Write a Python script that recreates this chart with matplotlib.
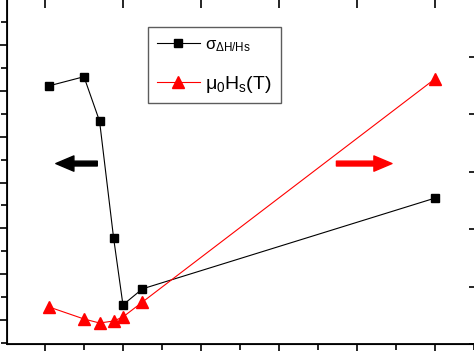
import matplotlib.pyplot as plt
from matplotlib.ticker import MultipleLocator

plt.rcParams['font.family'] = ['Liberation Sans', 'DejaVu Sans']
plt.rcParams['mathtext.fontset'] = 'custom'
plt.rcParams['mathtext.rm'] = 'Liberation Sans'
plt.rcParams['mathtext.it'] = 'Liberation Sans'

# data (arbitrary units since the tick labels are cropped)
x = [0.5, 5.0, 7.0, 8.8, 10.0, 12.5, 50.0]
sigma = [6.11, 6.31, 5.34, 2.79, 1.33, 1.68, 3.66]
mu0Hs = [0.129, 0.087, 0.073, 0.080, 0.094, 0.146, 0.922]

fig = plt.figure(figsize=(4.74, 3.51), dpi=100)
ax1 = fig.add_axes([7/474, 7/351, 470/474, 347/351])
ax1.set_xlim(-4.87, 55.4)
ax1.set_ylim(0.476, 8.05)

l1, = ax1.plot(x, sigma, color='black', linewidth=0.8, marker='s', markersize=6,
               label=r'$\sigma_{\Delta H/Hs}$')

ax2 = ax1.twinx()
ax2.set_ylim(0, 1.207)
l2, = ax2.plot(x, mu0Hs, color='red', linewidth=0.8, marker='^', markersize=8,
               label=r'$\mu_0H_s$(T)')

for s in ax1.spines.values():
    s.set_linewidth(1.3)

ax1.xaxis.set_major_locator(MultipleLocator(10))
ax1.xaxis.set_minor_locator(MultipleLocator(5))
ax1.yaxis.set_major_locator(MultipleLocator(1))
ax1.yaxis.set_minor_locator(MultipleLocator(0.5))
ax1.tick_params(which='both', direction='out', top=False, right=False,
                labelbottom=False, labelleft=False, width=1.2)
ax1.tick_params(which='major', length=7)
ax1.tick_params(which='minor', length=4)

ax2.yaxis.set_major_locator(MultipleLocator(0.2))
ax2.tick_params(which='major', direction='in', labelright=False, width=1.2, length=6)
ax2.tick_params(which='minor', right=False)

top = ax1.secondary_xaxis('top')
top.xaxis.set_major_locator(MultipleLocator(10))
top.tick_params(which='major', direction='in', labeltop=False, width=1.2, length=8)
top.tick_params(which='minor', top=False)

leg = ax2.legend(handles=[l1, l2], loc='upper left', bbox_to_anchor=(0.30, 0.913),
                 borderaxespad=0, fontsize=14, frameon=True, fancybox=False,
                 edgecolor='#333333', handlelength=2.2, handletextpad=0.3,
                 labelspacing=1.0, borderpad=0.45)
leg.get_frame().set_linewidth(1.0)
leg.get_texts()[0].set_fontsize(12)

# direction arrows
ax1.annotate('', xy=(0.098, 0.52), xytext=(0.198, 0.52), xycoords='axes fraction',
             arrowprops=dict(arrowstyle='simple,head_length=1.3,head_width=1.1,tail_width=0.35',
                             color='black'))
ax1.annotate('', xy=(0.825, 0.52), xytext=(0.695, 0.52), xycoords='axes fraction',
             arrowprops=dict(arrowstyle='simple,head_length=1.3,head_width=1.1,tail_width=0.35',
                             color='red'))

fig.savefig('out.png', dpi=100)
